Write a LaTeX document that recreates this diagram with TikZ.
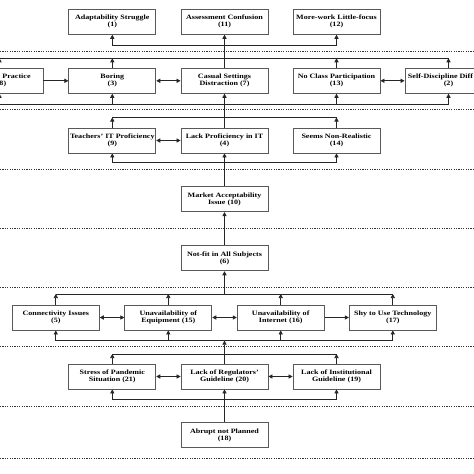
\documentclass[tikz,border=0pt]{standalone}
\usepackage{fontspec}
\setmainfont{Liberation Serif}[FakeStretch=1.22]
\usetikzlibrary{arrows.meta}
\begin{document}
\begin{tikzpicture}[x=1pt,y=-1pt,
  box/.style={draw=black!65, line width=0.9pt, minimum width=87pt, minimum height=25pt,
    inner sep=0pt, align=center, fill=white,
    font=\bfseries\fontsize{6.6}{6.9}\selectfont},
  conn/.style={line width=0.7pt, draw=black!85},
  arr/.style={conn, -{Triangle[length=4pt,width=4.2pt]}},
  darr/.style={conn, {Triangle[length=4pt,width=4.2pt]}-{Triangle[length=4pt,width=4.2pt]}},
  sep/.style={line width=0.9pt, draw=black!80, dash pattern=on 1.1pt off 1.3pt}]
\useasboundingbox (0,0) rectangle (474,474);
\clip (0,0) rectangle (474,474);
% separators
\foreach \yy in {51.7,109,169.3,228.3,287.7,346.7,406,458.3}
  \draw[sep] (0,\yy) -- (474,\yy);
% row 1
\node[box] (A1)  at (112.3,21.8) {Adaptability Struggle\\(1)};
\node[box] (A11) at (224.5,21.8) {Assessment Confusion\\(11)};
\node[box] (A12) at (336.5,21.8) {More-work Little-focus\\(12)};
% row 2
\node[box] (P8)  at (-0.5,80.8) {\hspace*{34pt}Practice\\\hspace*{4pt}(8)};
\node[box] (B3)  at (112.3,80.8) {Boring\\(3)};
\node[box] (C7)  at (224.5,80.8) {Casual Settings\\Distraction (7)};
\node[box] (N13) at (336.5,80.8) {No Class Participation\\(13)};
\node[box] (S2)  at (448.5,80.8) {Self-Discipline Diff\hspace*{16pt}\\(2)};
% row 3
\node[box] (T9)  at (112.3,140.5) {Teachers' IT Proficiency\\(9)};
\node[box] (L4)  at (224.5,140.5) {Lack Proficiency in IT\\(4)};
\node[box] (S14) at (336.5,140.5) {Seems Non-Realistic\\(14)};
% row 4
\node[box] (M10) at (224.5,199.2) {Market Acceptability\\Issue (10)};
% row 5
\node[box] (N6)  at (224.5,258.3) {Not-fit in All Subjects\\(6)};
% row 6
\node[box] (C5)  at (55.8,317.5) {Connectivity Issues\\(5)};
\node[box] (E15) at (168.3,317.5) {Unavailability of\\Equipment (15)};
\node[box] (I16) at (280.7,317.5) {Unavailability of\\Internet (16)};
\node[box] (Y17) at (392.8,317.5) {Shy to Use Technology\\(17)};
% row 7
\node[box] (ST21) at (112.3,376.5) {Stress of Pandemic\\Situation (21)};
\node[box] (R20)  at (224.5,376.5) {Lack of Regulators'\\Guideline (20)};
\node[box] (IN19) at (336.5,376.5) {Lack of Institutional\\Guideline (19)};
% row 8
\node[box] (AB18) at (224.5,435.2) {Abrupt not Planned\\(18)};
% bus coordinates
\coordinate (b1) at (224.5,45);
\coordinate (b2) at (224.5,58.3);
\coordinate (b3) at (224.5,104);
\coordinate (b4) at (224.5,117.5);
\coordinate (b5) at (224.5,162.3);
\coordinate (b6) at (224.5,294);
\coordinate (b7) at (224.5,340.7);
\coordinate (b8) at (224.5,354);
\coordinate (b9) at (224.5,399.3);
% row 1 links
\draw[arr] (C7.north) -- (A11.south);
\draw[conn] (A1.south |- b1) -- (A12.south |- b1);
\draw[arr] (A1.south |- b1) -- (A1.south);
\draw[arr] (A12.south |- b1) -- (A12.south);
% row 2 links
\draw[conn] (P8.north |- b2) -- (S2.north |- b2);
\foreach \n in {P8,B3,N13,S2} \draw[arr] (\n.north) -- (\n.north |- b2);
\draw[conn] (P8.south |- b3) -- (S2.south |- b3);
\foreach \n in {P8,B3,N13,S2} \draw[arr] (\n.south |- b3) -- (\n.south);
\draw[arr] (P8) -- (B3);
\draw[darr] (B3) -- (C7);
\draw[darr] (N13) -- (S2);
\draw[arr] (L4.north) -- (C7.south);
% row 3 links
\draw[conn] (T9.north |- b4) -- (S14.north |- b4);
\foreach \n in {T9,S14} \draw[arr] (\n.north) -- (\n.north |- b4);
\draw[darr] (T9) -- (L4);
\draw[conn] (T9.south |- b5) -- (S14.south |- b5);
\foreach \n in {T9,S14} \draw[arr] (\n.south |- b5) -- (\n.south);
\draw[arr] (M10.north) -- (L4.south);
\draw[arr] (N6.north) -- (M10.south);
% row 5 links
\draw[conn] (C5.north |- b6) -- (Y17.north |- b6);
\foreach \n in {C5,E15,I16,Y17} \draw[arr] (\n.north) -- (\n.north |- b6);
\draw[arr] (b6) -- (N6.south);
\draw[darr] (C5) -- (E15);
\draw[darr] (E15) -- (I16);
\draw[arr] (I16) -- (Y17);
\draw[conn] (C5.south |- b7) -- (Y17.south |- b7);
\foreach \n in {C5,E15,I16,Y17} \draw[arr] (\n.south |- b7) -- (\n.south);
\draw[arr] (R20.north) -- (b7);
% row 6 links
\draw[conn] (ST21.north |- b8) -- (IN19.north |- b8);
\foreach \n in {ST21,IN19} \draw[arr] (\n.north) -- (\n.north |- b8);
\draw[darr] (ST21) -- (R20);
\draw[darr] (R20) -- (IN19);
\draw[conn] (ST21.south |- b9) -- (IN19.south |- b9);
\foreach \n in {ST21,IN19} \draw[arr] (\n.south |- b9) -- (\n.south);
\draw[arr] (AB18.north) -- (R20.south);
\end{tikzpicture}
\end{document}
